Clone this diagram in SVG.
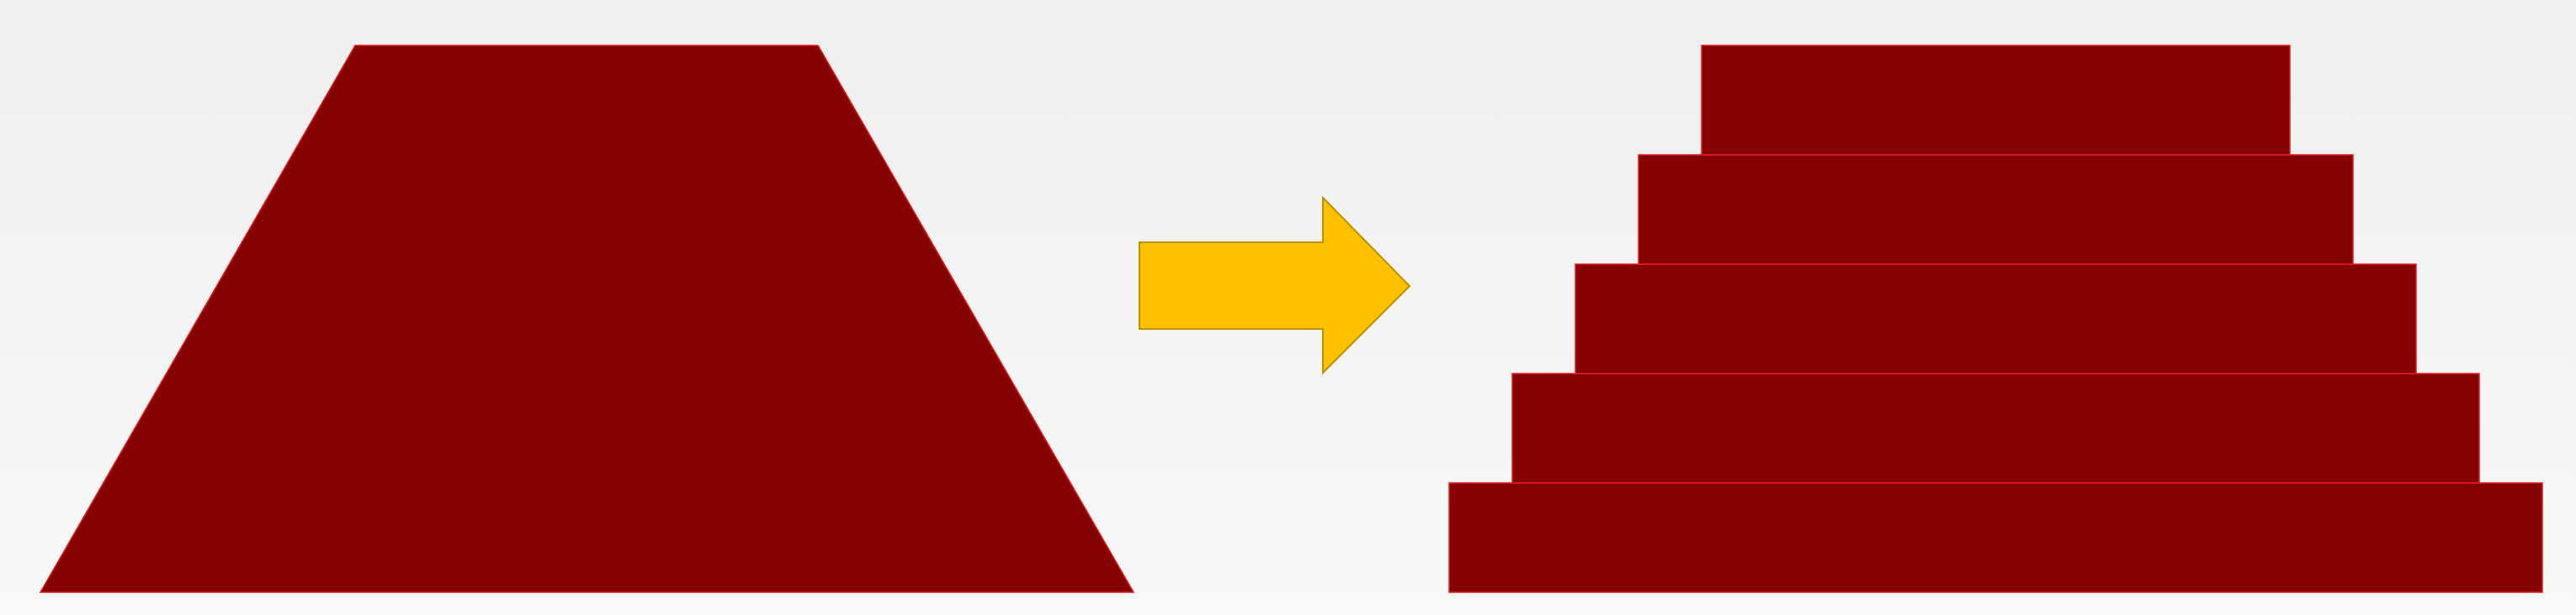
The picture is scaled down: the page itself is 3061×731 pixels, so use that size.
<svg xmlns="http://www.w3.org/2000/svg" width="3061" height="731" viewBox="0 0 3061 731">
  <defs>
    <linearGradient id="bg" x1="0" y1="0" x2="0" y2="1">
      <stop offset="0" stop-color="#efefef"/>
      <stop offset="1" stop-color="#f8f8f8"/>
    </linearGradient>
  </defs>
  <style>
    .shape { fill: #840202; stroke: #e41e1e; stroke-width: 1.5; stroke-linejoin: miter; }
    .arrow { fill: #ffc000; stroke: #bf9000; stroke-width: 2; stroke-linejoin: miter; }
  </style>
  <rect x="0" y="0" width="3061" height="731" fill="url(#bg)"/>

  <g id="trapezoid">
    <polygon class="shape" points="422,54 972,54 1347,704 48,704"/>
  </g>

  <g id="connectors">
    <g id="block-arrow">
      <polygon class="arrow" points="1354,288 1572,288 1572,235 1675,340 1572,443 1572,391 1354,391"/>
    </g>
  </g>

  <g id="stairs">
    <g id="tier-5"><rect class="shape" x="1722" y="574" width="1299" height="130"/></g>
    <g id="tier-4"><rect class="shape" x="1797" y="444" width="1149" height="130"/></g>
    <g id="tier-3"><rect class="shape" x="1872" y="314" width="999" height="130"/></g>
    <g id="tier-2"><rect class="shape" x="1947" y="184" width="849" height="130"/></g>
    <g id="tier-1"><rect class="shape" x="2022" y="54" width="699" height="130"/></g>
  </g>
</svg>
